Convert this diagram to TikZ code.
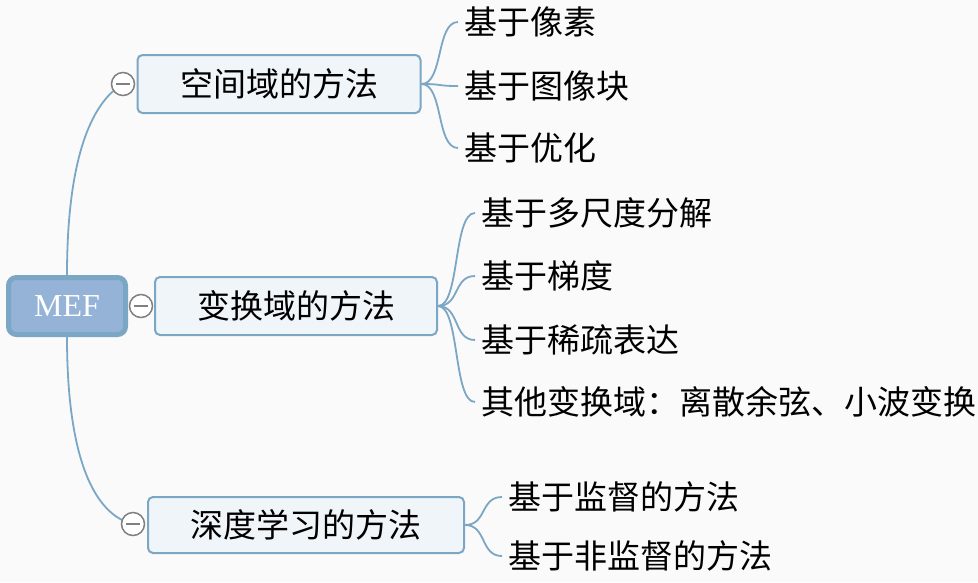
\documentclass[tikz,border=0pt]{standalone}
\usepackage{fontspec}
\newfontfamily\cjk{Noto Sans CJK SC}
\newfontfamily\serifmef{Liberation Serif}
\definecolor{ln}{HTML}{7BA7C4}
\definecolor{bx}{HTML}{F0F5F9}
\definecolor{mef}{HTML}{95B3D7}
\begin{document}
\begin{tikzpicture}[x=1pt,y=-1pt,
  branch/.style={draw=ln,line width=2pt,fill=bx,rounded corners=5pt,minimum height=58pt,font=\cjk\fontsize{33}{33}\selectfont},
  leaf/.style={anchor=west,inner sep=0pt,font=\cjk\fontsize{33}{33}\selectfont},
  coll/.style={circle,draw=gray,fill=white,line width=1.5pt,minimum size=23pt,inner sep=0pt},
  con/.style={draw=ln,line width=1.8pt}]
\fill[white!98!black] (0,0) rectangle (978,582);
\useasboundingbox (0,0) rectangle (978,582);
\node[draw=ln,line width=5pt,fill=mef,rounded corners=8pt,minimum width=117pt,minimum height=57pt,text=white,font=\serifmef\fontsize{32}{32}\selectfont] (mef) at (67,306) {MEF};
\node[branch,minimum width=283pt] (b1) at (279,84) {空间域的方法};
\node[branch,minimum width=282pt] (b2) at (296,306) {变换域的方法};
\node[branch,minimum width=316pt,minimum height=56pt] (b3) at (306,525) {深度学习的方法};
\draw[con] (mef.north) .. controls (67,150) and (95,100) .. (123,84);
\draw[con] (mef.south) .. controls (67,460) and (95,515) .. (133,524);
\node[coll] (c1) at (123,84) {};
\node[coll] (c2) at (141,306) {};
\node[coll] (c3) at (133,524) {};
\foreach \c in {c1,c2,c3} \draw[gray,line width=1.5pt] ([xshift=-7pt]\c.center) -- ([xshift=7pt]\c.center);
\node[leaf] (l1) at (464,22) {基于像素};
\node[leaf] (l2) at (464,86) {基于图像块};
\node[leaf] (l3) at (464,148) {基于优化};
\node[leaf] (t1) at (481,213) {基于多尺度分解};
\node[leaf] (t2) at (481,276) {基于梯度};
\node[leaf] (t3) at (481,340) {基于稀疏表达};
\node[leaf] (t4) at (481,402) {其他变换域：离散余弦、小波变换};
\node[leaf] (d1) at (508,497) {基于监督的方法};
\node[leaf] (d2) at (508,556) {基于非监督的方法};
\foreach \l in {l1,l2,l3} \draw[con] (b1.east) .. controls ([xshift=22pt]b1.east) and ([xshift=-28pt]\l.west) .. ([xshift=-6pt]\l.west);
\foreach \l in {t1,t2,t3,t4} \draw[con] (b2.east) .. controls ([xshift=22pt]b2.east) and ([xshift=-28pt]\l.west) .. ([xshift=-6pt]\l.west);
\foreach \l in {d1,d2} \draw[con] (b3.east) .. controls ([xshift=22pt]b3.east) and ([xshift=-28pt]\l.west) .. ([xshift=-6pt]\l.west);
\end{tikzpicture}
\end{document}
